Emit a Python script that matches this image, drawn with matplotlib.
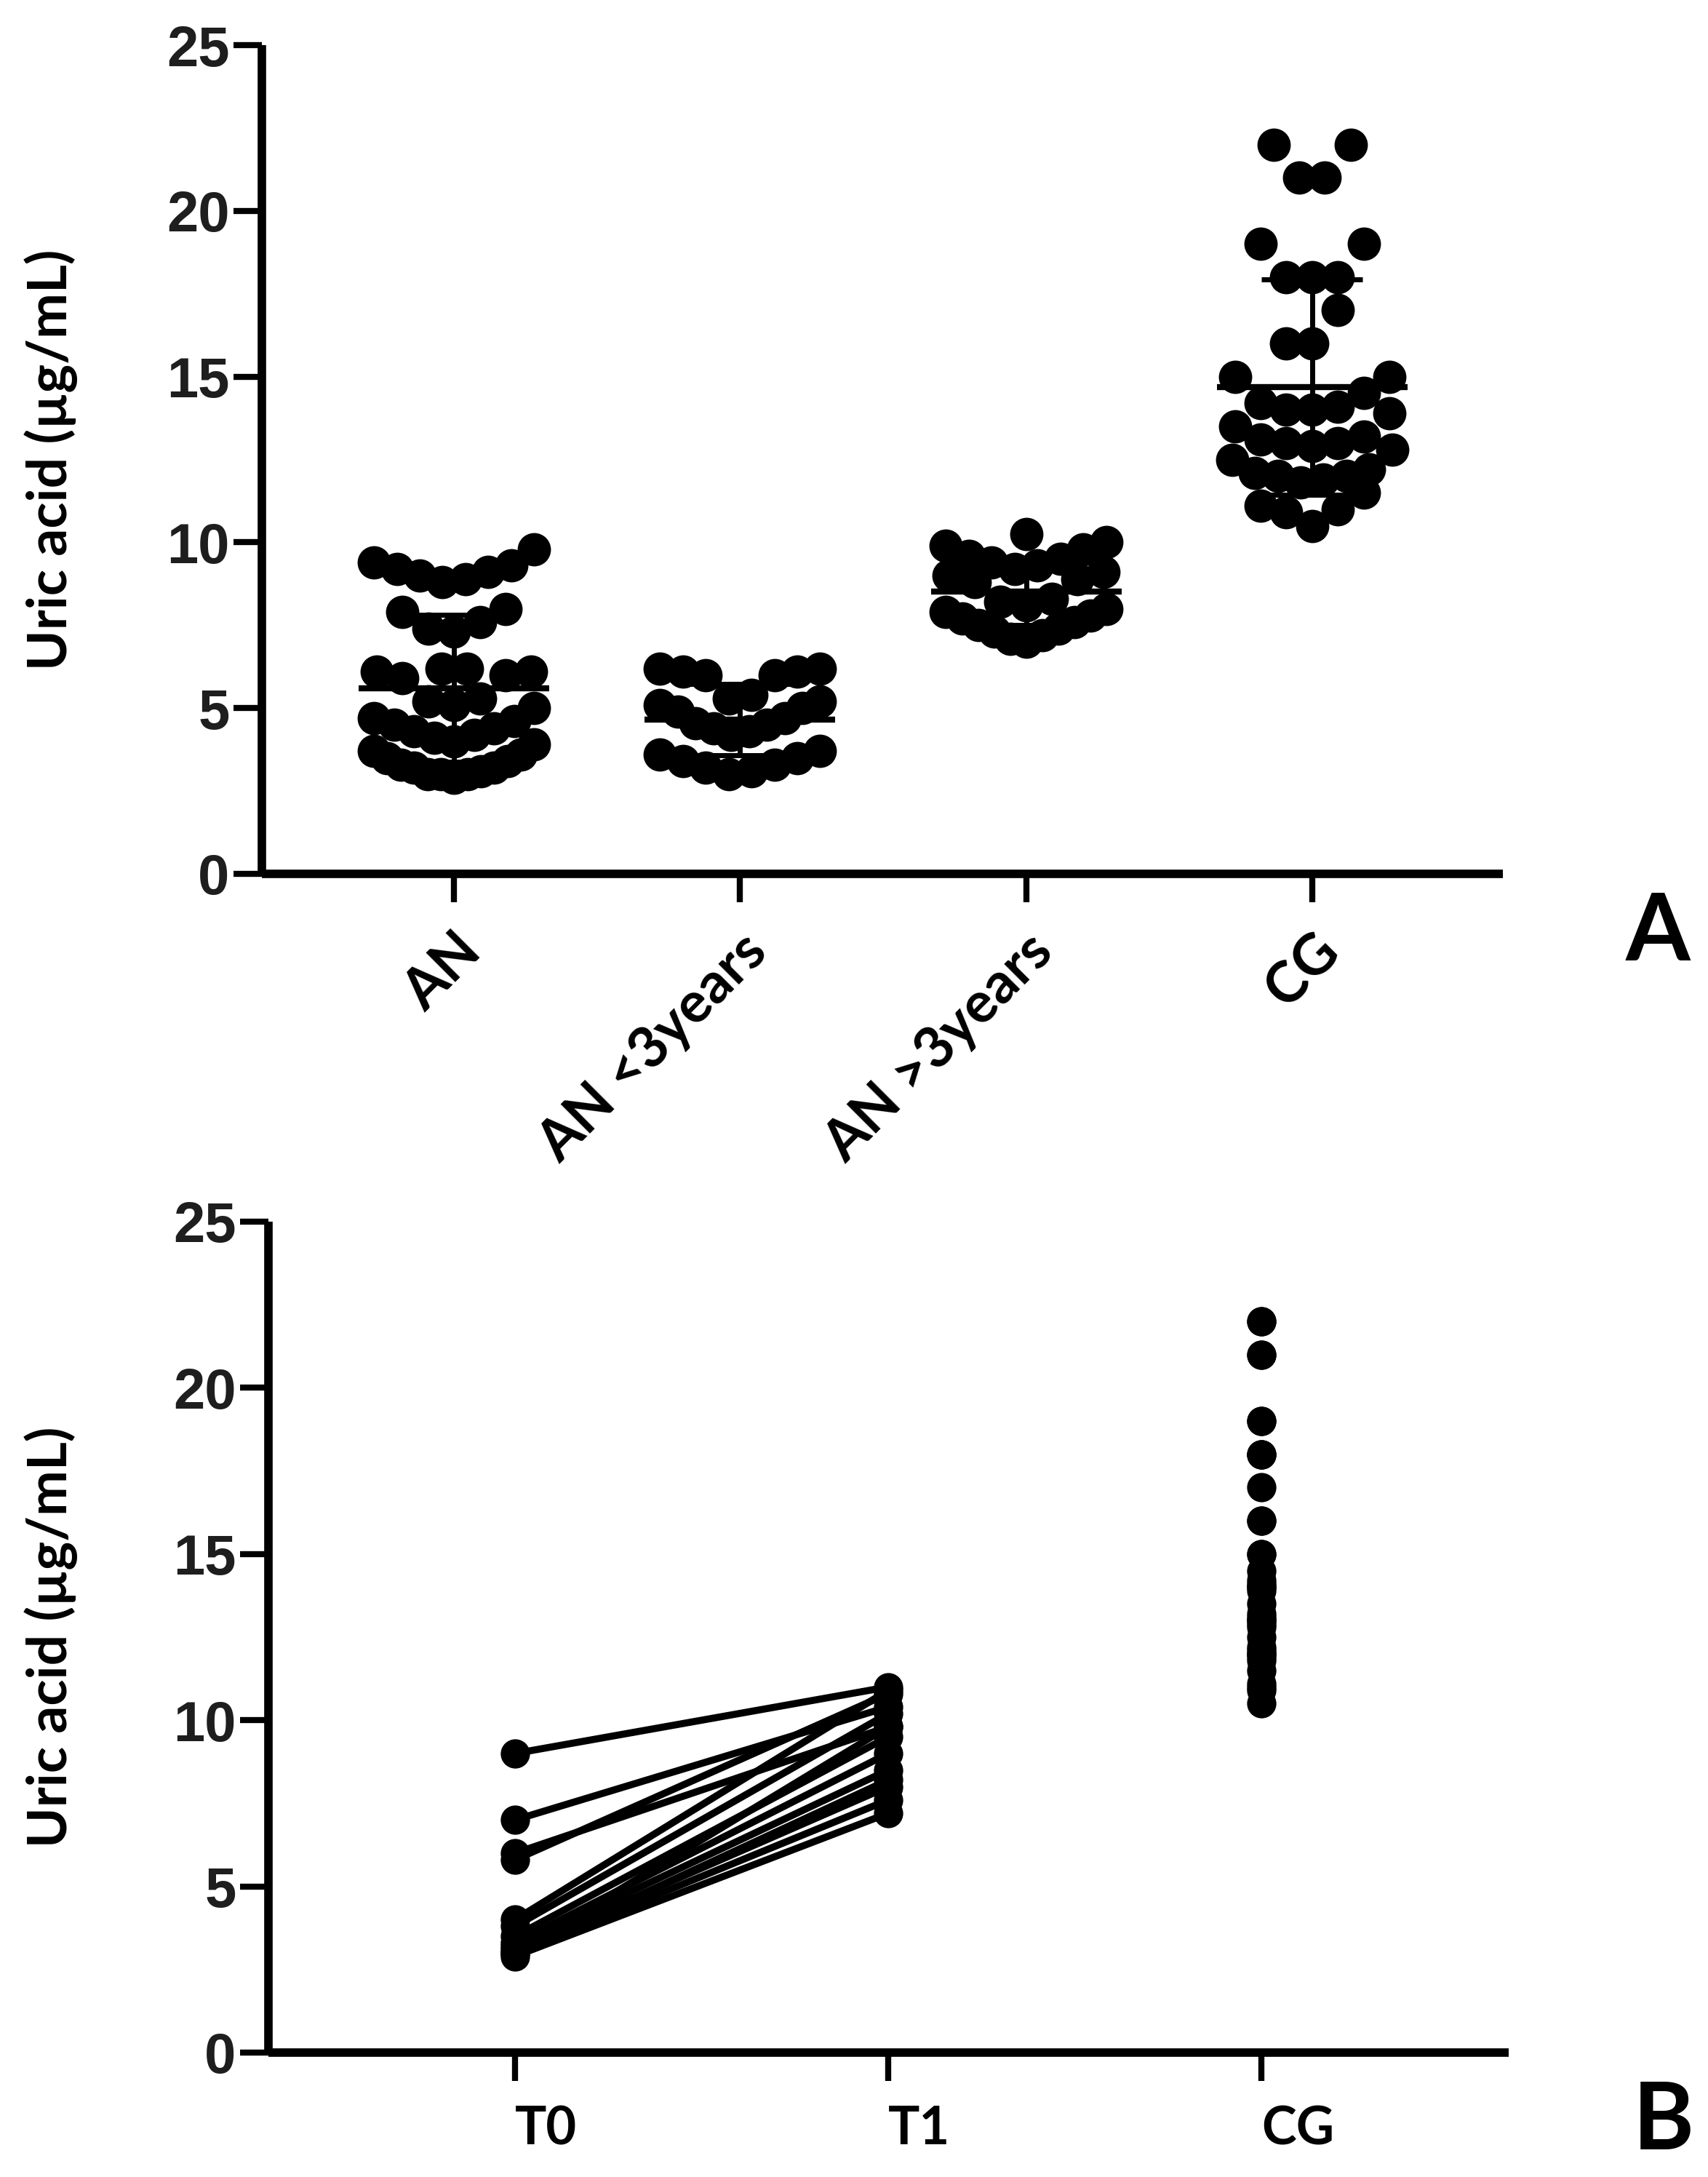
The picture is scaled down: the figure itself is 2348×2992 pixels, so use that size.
import numpy as np
import matplotlib.pyplot as plt

# =========================
# DATOS
# =========================
grupos_a = ["AN", "AN <3years", "AN >3years", "CG"]
an = [9.8, 9.4, 9.3, 9.2, 9.1, 9.0, 8.9, 8.8,
      8.0, 7.9, 7.6, 7.4, 7.3,
      6.2, 6.2, 6.1, 6.1, 6.0, 5.9,
      5.3, 5.2, 5.1, 5.0,
      4.7, 4.6, 4.5, 4.4, 4.3, 4.2, 4.1, 4.0,
      3.9, 3.7, 3.6, 3.5, 3.4, 3.3, 3.2, 3.2, 3.1, 3.0, 3.0, 3.0, 2.9]
an_menor3 = [6.2, 6.2, 6.1, 6.1, 6.0, 6.0,
             5.4, 5.3, 5.2, 5.1, 5.0, 4.9,
             4.7, 4.55, 4.5, 4.4, 4.3, 4.2,
             3.7, 3.6, 3.5, 3.4, 3.3, 3.2, 3.1, 3.0]
an_mayor3 = [10.25, 10.0, 9.9, 9.8, 9.6, 9.5, 9.4, 9.3, 9.2, 9.1, 9.0, 8.9, 8.8,
             8.3, 8.2, 8.1, 8.0, 7.9, 7.8, 7.7, 7.6, 7.5, 7.4, 7.3, 7.2, 7.1, 7.0]
cg = [22, 22, 21, 21, 19, 19, 18, 18, 18, 17, 16, 16, 15, 15,
      14.5, 14.2, 14.1, 14.0, 14.0, 13.9, 13.5,
      13.2, 13.1, 13.0, 13.0, 12.9, 12.8, 12.5,
      12.2, 12.1, 12.0, 12.0, 11.9, 11.8, 11.5,
      11.1, 11.0, 10.9, 10.5]

grupos_b = ["T0", "T1", "CG"]
t0 = [9.0, 7.0, 6.0, 5.8, 4.0, 3.8, 3.5, 3.3, 3.2, 3.1, 3.0, 3.0, 3.0, 2.9]
t1 = [11.0, 10.4, 9.8, 10.8, 10.9, 10.2, 9.5, 9.0, 8.5, 8.0, 9.8, 8.2, 7.6, 7.2]

yticks = [0, 5, 10, 15, 20, 25]

# =========================
# ESTILO
# =========================
DPI = 200
W, H = 2348, 2992
fuente_txt = ["Lato", "DejaVu Sans"]
fuente_num = ["Liberation Sans", "DejaVu Sans"]


def filas(valores, alto, paso, ancho_max):
    # reparte los puntos en filas horizontales (tipo GraphPad):
    # en cada fila el valor mas bajo va al centro y los mas altos hacia afuera
    vals = np.asarray(valores, float)
    orden = np.argsort(vals, kind="stable")
    offs = np.zeros(len(vals))
    filas_ = []
    grupo = []
    inicio = None
    for i in orden:
        if inicio is None or vals[i] >= inicio + alto:
            if grupo:
                filas_.append(grupo)
            grupo = [i]
            inicio = vals[i]
        else:
            grupo.append(i)
    filas_.append(grupo)
    for g in filas_:
        n = len(g)
        p = min(paso, ancho_max / (n - 1)) if n > 1 else 0
        if n % 2:
            slots = [0]
            for k in range(1, n // 2 + 1):
                slots += [-k, k]
        else:
            slots = []
            for k in range(1, n // 2 + 1):
                slots += [-(k - 0.5), k - 0.5]
        for idx, s in zip(g, slots):
            offs[idx] = s * p
    return offs


def ejes(ax, xmin, xmax):
    ax.set_xlim(xmin, xmax)
    ax.set_ylim(0, 25)
    for lado in ["top", "right"]:
        ax.spines[lado].set_visible(False)
    for lado in ["left", "bottom"]:
        ax.spines[lado].set_linewidth(4.2)
        ax.spines[lado].set_capstyle("butt")
    ax.set_yticks(yticks)
    ax.tick_params(axis="both", length=14, width=3, color="black")
    ax.tick_params(axis="y", pad=2)
    for t in ax.get_yticklabels():
        t.set_fontfamily(fuente_num)
        t.set_fontweight("bold")
        t.set_fontsize(28)
        t.set_color("#1e1e1e")


fig = plt.figure(figsize=(W / DPI, H / DPI), dpi=DPI)

# =========================
# PANEL A
# =========================
axA = fig.add_axes([360 / W, 1 - 1201 / H, 1706 / W, (1201 - 62) / H])
xminA, xmaxA = -0.672, 3.667
ejes(axA, xminA, xmaxA)
for i, vals in enumerate([an, an_menor3, an_mayor3, cg]):
    offs = filas(vals, 1.05, 0.09, 0.56)
    axA.plot(i + offs, vals, "o", color="black", ms=16.5, mew=0, zorder=2, clip_on=False)
    m = np.mean(vals)
    sd = np.std(vals, ddof=1)
    axA.hlines(m, i - 0.333, i + 0.333, color="black", lw=3, zorder=3)
    axA.vlines(i, m - sd, m + sd, color="black", lw=2.5, zorder=3)
    axA.hlines([m - sd, m + sd], i - 0.177, i + 0.177, color="black", lw=2.5, zorder=3)
axA.set_xticks(range(len(grupos_a)))
axA.set_xticklabels(grupos_a, fontfamily=fuente_txt, fontweight="bold", fontsize=28,
                    rotation=45, ha="right", va="top", rotation_mode="anchor")
axA.tick_params(axis="x", pad=11)

# =========================
# PANEL B
# =========================
axB = fig.add_axes([369 / W, 1 - 2821 / H, 1705 / W, (2821 - 1679) / H])
xminB, xmaxB = -0.661, 2.663
ejes(axB, xminB, xmaxB)
for a, b in zip(t0, t1):
    axB.plot([0, 1], [a, b], "-o", color="black", lw=3.5, ms=14.5, mew=0, zorder=2)
axB.plot(np.full(len(cg), 2), cg, "o", color="black", ms=14.5, mew=0, zorder=2)
axB.set_xticks(range(len(grupos_b)))
axB.set_xticklabels(grupos_b, fontfamily=fuente_txt, fontweight="bold", fontsize=26, ha="left")
axB.tick_params(axis="x", pad=12)

# =========================
# TEXTOS
# =========================
for yc in [(62 + 1201) / 2, (1679 + 2821) / 2]:
    fig.text(70 / W, 1 - yc / H, "Uric acid (\u00b5g/mL)", rotation=90, ha="center", va="center",
             fontfamily=fuente_txt, fontweight="bold", fontsize=27)
fig.text(2279 / W, 1 - 1283 / H, "A", ha="center", va="center",
         fontfamily=fuente_txt, fontweight="bold", fontsize=46)
fig.text(2287 / W, 1 - 2917 / H, "B", ha="center", va="center",
         fontfamily=fuente_txt, fontweight="bold", fontsize=46)

fig.savefig("out.png", dpi=DPI, facecolor="white")
